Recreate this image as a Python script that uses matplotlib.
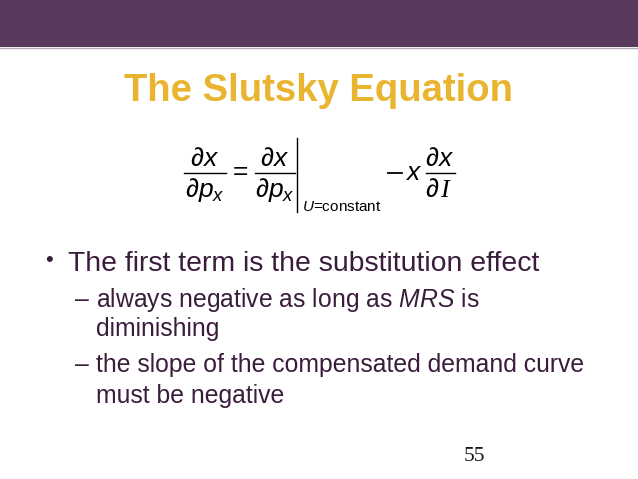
import matplotlib.pyplot as plt
from matplotlib.patches import Rectangle
from matplotlib.lines import Line2D

plt.rcParams["mathtext.fontset"] = "custom"
plt.rcParams["mathtext.it"] = "Liberation Sans:italic"
plt.rcParams["mathtext.rm"] = "Liberation Sans"

W, H = 638, 479

title = "The Slutsky Equation"
bullet = "The first term is the substitution effect"
sub1 = ["always negative as long as ", "MRS", " is"]
sub1b = "diminishing"
sub2 = ["the slope of the compensated demand curve", "must be negative"]
cond = "$U$=constant"
page = "55"

gold = "#e9b42f"
ink = "#3a1c3c"
fam = ["Liberation Sans", "DejaVu Sans"]


def px(x, y):
    return x / W, 1 - y / H


def hline(x0, x1, y, **kw):
    fig.lines.append(Line2D([x0 / W, x1 / W], [1 - y / H] * 2,
                            transform=fig.transFigure, **kw))


fig = plt.figure(figsize=(W / 100, H / 100), dpi=100)
fig.patch.set_facecolor("white")

# banner oben
fig.patches.append(Rectangle((0, 1 - 47 / H), 1, 47 / H, transform=fig.transFigure,
                             facecolor="#573a5c", edgecolor="none"))
hline(0, W, 48, color="#b9a9bd", lw=1)

fig.text(*px(319, 101), title, ha="center", va="baseline", fontsize=27.5,
         fontweight="bold", color=gold, family=fam)


# Gleichung
def frac(xc, w, num, den):
    fig.text(*px(xc, 166), num, ha="center", va="baseline", fontsize=19,
             color="black", family=fam)
    hline(xc - w / 2, xc + w / 2, 173, color="black", lw=1)
    fig.text(*px(xc, 197), den, ha="center", va="baseline", fontsize=19,
             color="black", family=fam)


frac(205, 42, "∂$x$", "∂$p_x$")
fig.text(*px(240, 172), "=", ha="center", va="center", fontsize=19, color="black", family=fam)
frac(275, 40, "∂$x$", "∂$p_x$")
fig.lines.append(Line2D([297 / W] * 2, [1 - 138 / H, 1 - 212 / H],
                        transform=fig.transFigure, color="black", lw=1))
fig.text(*px(302, 211), cond, ha="left", va="baseline", fontsize=11,
         color="black", family=fam)
hline(388, 402, 173, color="black", lw=1.3)
fig.text(*px(413, 180), "x", ha="center", va="baseline", fontsize=19, style="italic",
         color="black", family=fam)
fig.text(*px(440, 166), "∂$x$", ha="center", va="baseline", fontsize=19,
         color="black", family=fam)
hline(426, 455, 173, color="black", lw=1)
fig.text(*px(432, 197), "∂", ha="center", va="baseline", fontsize=19,
         color="black", family=fam)
fig.text(*px(444, 197), "I", ha="center", va="baseline", fontsize=19, style="italic",
         color="black", family=["Liberation Serif", "DejaVu Serif"])

# Aufzählung
fig.text(*px(49, 261), "•", ha="center", va="center", fontsize=16, color=ink, family=fam)
fig.text(*px(68, 271), bullet, ha="left", va="baseline", fontsize=20.4, color=ink, family=fam)

fs = 17.8
fig.text(*px(75, 307), "–", ha="left", va="baseline", fontsize=fs, color=ink, family=fam)
fig.text(*px(96, 307), sub1[0] + "$\\mathit{" + sub1[1] + "}$" + sub1[2], ha="left",
         va="baseline", fontsize=fs, color=ink, family=fam)
fig.text(*px(96, 336), sub1b, ha="left", va="baseline", fontsize=fs, color=ink, family=fam)
fig.text(*px(75, 372), "–", ha="left", va="baseline", fontsize=fs, color=ink, family=fam)
fig.text(*px(96, 372), sub2[0], ha="left", va="baseline", fontsize=fs, color=ink, family=fam)
fig.text(*px(96, 403), sub2[1], ha="left", va="baseline", fontsize=fs, color=ink, family=fam)

fig.text(*px(474, 461), page, ha="center", va="baseline", fontsize=15.5, color="#1a1a1a",
         family=["Liberation Serif", "DejaVu Serif"])

fig.savefig("out.png", dpi=100)
